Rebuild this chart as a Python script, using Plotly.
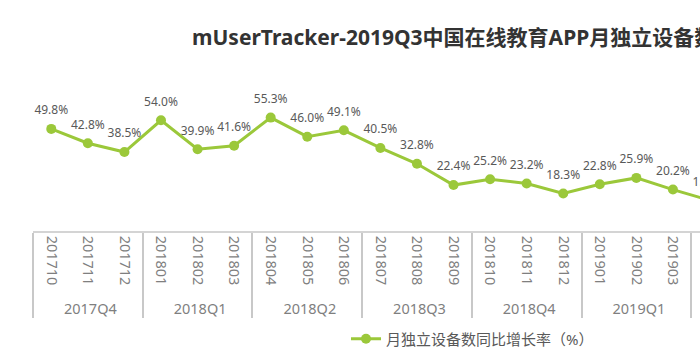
import plotly.graph_objects as go

# Monthly unique-device YoY growth of online education apps
months = ["201710", "201711", "201712", "201801", "201802", "201803",
          "201804", "201805", "201806", "201807", "201808", "201809",
          "201810", "201811", "201812", "201901", "201902", "201903",
          "201904"]
quarters = ["2017Q4", "2017Q4", "2017Q4", "2018Q1", "2018Q1", "2018Q1",
            "2018Q2", "2018Q2", "2018Q2", "2018Q3", "2018Q3", "2018Q3",
            "2018Q4", "2018Q4", "2018Q4", "2019Q1", "2019Q1", "2019Q1",
            "2019Q2"]
growth = [49.8, 42.8, 38.5, 54.0, 39.9, 41.6, 55.3, 46.0, 49.1, 40.5,
          32.8, 22.4, 25.2, 23.2, 18.3, 22.8, 25.9, 20.2, 15.0]

title_text = "mUserTracker-2019Q3中国在线教育APP月独立设备数"
series_name = "月独立设备数同比增长率（%）"

GREEN = "#9bc83a"
FONT = "Noto Sans, Noto Sans CJK SC, sans-serif"

fig = go.Figure()

fig.add_trace(go.Scatter(
    x=[quarters, months], y=growth,
    mode="lines+markers",
    name=series_name,
    line=dict(color=GREEN, width=3),
    marker=dict(color=GREEN, size=10),
    hoverinfo="skip",
))

# value labels, lifted a little above the markers
fig.add_trace(go.Scatter(
    x=[quarters, months], y=growth,
    mode="markers+text",
    text=[f"{v:.1f}%" for v in growth],
    textposition="top center",
    textfont=dict(family=FONT, size=12, color="#595959"),
    marker=dict(size=17, color="rgba(0,0,0,0)"),
    showlegend=False,
    hoverinfo="skip",
    cliponaxis=True,
))

fig.update_layout(
    width=700, height=350,
    margin=dict(l=33, r=0, t=60, b=119, autoexpand=False),
    paper_bgcolor="white", plot_bgcolor="white",
    font=dict(family=FONT, color="#7f7f7f"),
    title=dict(
        text=f"<b>{title_text}</b>",
        xref="container", yref="container",
        x=192 / 700, xanchor="left",
        y=1 - 38 / 350, yanchor="middle",
        font=dict(family=FONT, size=21, color="#333333"),
    ),
    showlegend=True,
    legend=dict(
        orientation="h",
        x=(346 - 33) / 667, xanchor="left",
        y=-(339 - 231) / 171, yanchor="middle",
        font=dict(family=FONT, size=15, color="#595959"),
        bgcolor="rgba(0,0,0,0)",
    ),
)

fig.update_xaxes(
    type="multicategory",
    range=[-0.5, 17.74],
    showline=True, linecolor="#d4d4d4", linewidth=1.5,
    showgrid=False,
    ticks="outside", ticklen=11, tickcolor="rgba(0,0,0,0)",
    tickangle=90,
    tickfont=dict(family=FONT, size=14.5, color="#7f7f7f"),
    showdividers=True, dividercolor="#c8c8c8", dividerwidth=1.5,
)
fig.update_yaxes(visible=False, range=[0, 83.4], fixedrange=True)

fig.write_html("out.html")
